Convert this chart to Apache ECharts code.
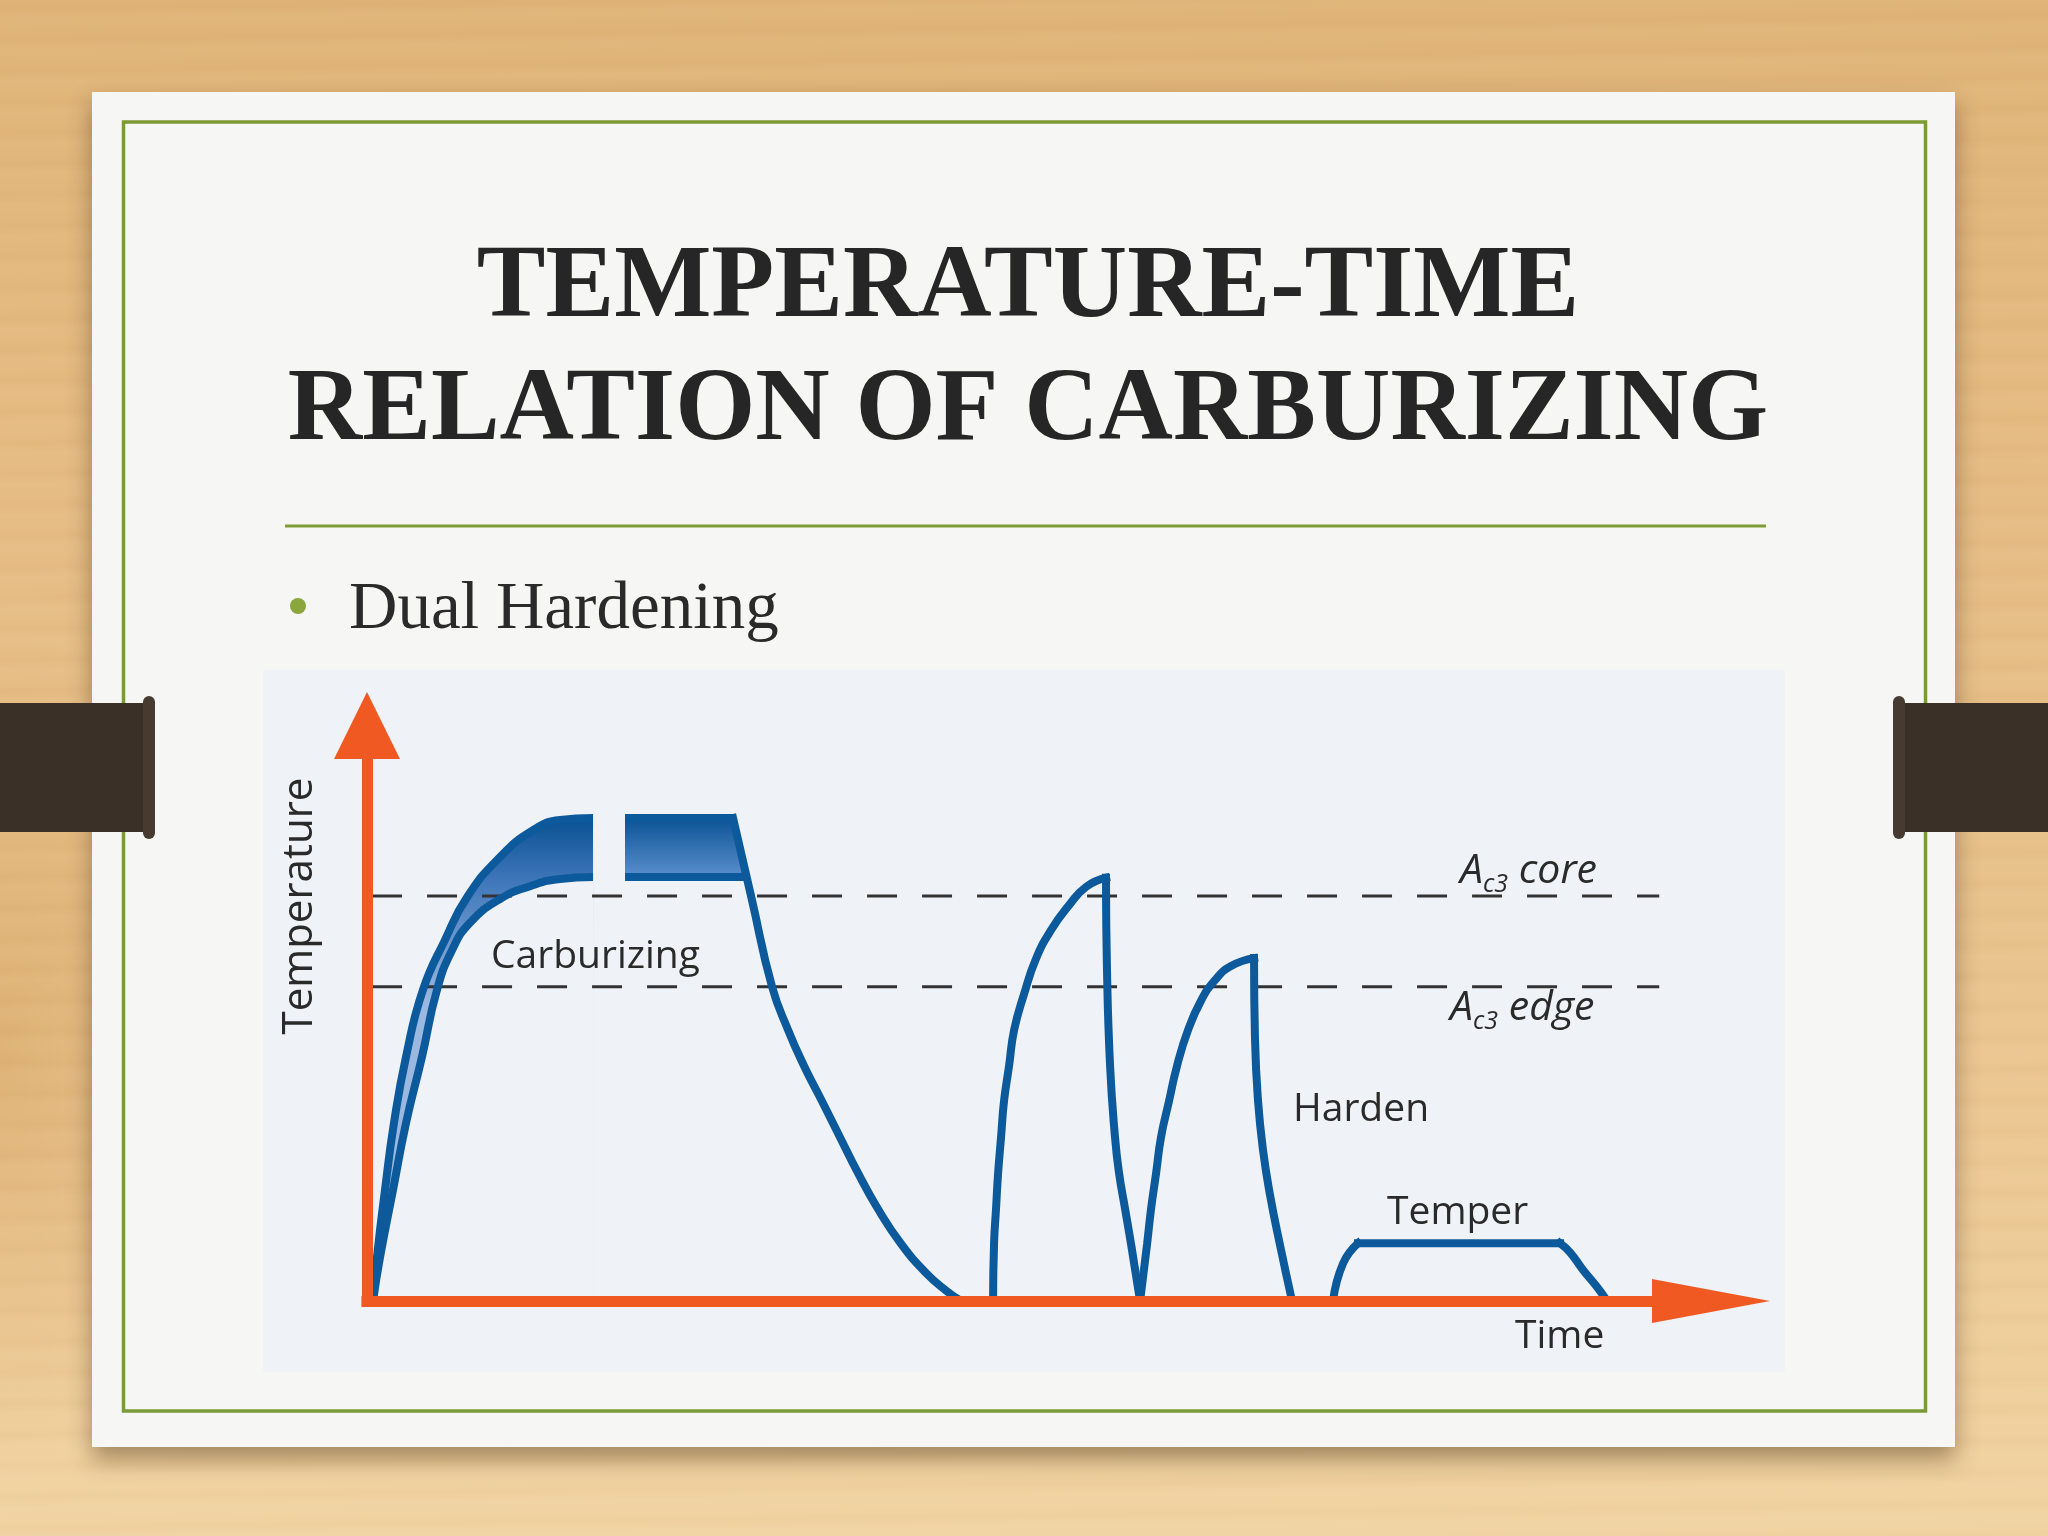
<!DOCTYPE html>
<html>
<head>
<meta charset="utf-8">
<title>Temperature-Time Relation of Carburizing</title>
<script src="https://cdn.jsdelivr.net/npm/echarts@6.0.0/dist/echarts.min.js"></script>
<style>
  html, body { margin: 0; padding: 0; }
  body {
    width: 2048px; height: 1536px; overflow: hidden;
    background-color: #e8c28a;
    background-image:
      repeating-linear-gradient(179.3deg, rgba(160, 100, 40, 0) 0px, rgba(160, 100, 40, 0.035) 9px, rgba(255, 236, 200, 0.03) 19px, rgba(160, 100, 40, 0) 31px),
      radial-gradient(ellipse 260px 420px at 0px 1050px, rgba(200, 140, 70, 0.35), rgba(200, 140, 70, 0)),
      linear-gradient(180deg, #e0b479 0%, #e5bc83 30%, #e8c18a 55%, #edcb97 80%, #f1d4a3 100%);
  }
  #chart { width: 2048px; height: 1536px; }
</style>
</head>
<body>
<div id="chart"></div>
<script>
// schematic units: time along x, temperature along y (no tick values on the original)
const carbOuter = [[0.43, 0], [0.71, 7.2], [1.28, 18.2], [1.92, 29.2], [2.78, 40.1], [3.99, 51.1],
  [5.56, 59.3], [7.13, 66.3], [9.48, 72.9], [11.83, 77.3], [13.76, 79.0], [16.11, 79.3]]
const carbInner = [[0.43, 0], [0.93, 7.2], [1.85, 18.2], [2.78, 29.2], [3.92, 40.1], [4.99, 51.1],
  [6.06, 57.6], [7.34, 62.1], [9.48, 66.0], [11.62, 68.1], [13.76, 69.3], [16.11, 69.6]]
const holdTop = [[18.39, 79.3], [26.09, 79.3]]
const holdBottom = [[18.39, 69.6], [27.0, 69.6]]
const cooling = [[26.09, 79.3], [27.44, 65.8], [28.87, 51.6], [30.01, 44.5], [31.15, 38.6],
  [32.43, 32.8], [33.71, 26.9], [35.0, 21.0], [36.42, 15.1], [38.06, 9.4], [39.84, 4.6],
  [41.34, 1.6], [42.34, 0]]
const harden1Up = [[44.62, 0], [44.69, 9.4], [44.83, 15.1], [44.98, 21.0], [45.19, 26.9],
  [45.4, 32.8], [45.76, 38.6], [46.12, 44.5], [46.83, 50.4], [47.68, 56.2], [48.75, 60.9],
  [50.04, 65.0], [51.25, 68.0], [52.67, 69.5]]
const harden1Down = [[52.67, 69.5], [52.74, 54.4], [52.96, 38.6], [53.31, 26.9], [53.6, 21.0],
  [54.03, 15.1], [54.45, 9.4], [55.1, 0]]
const harden2Up = [[55.1, 0], [55.6, 9.4], [55.88, 15.1], [56.24, 21.0], [56.59, 26.9],
  [57.16, 32.8], [57.73, 38.6], [58.52, 44.5], [59.44, 49.3], [60.44, 52.7], [61.58, 55.0], [63.22, 56.3]]
const harden2Down = [[63.22, 56.3], [63.29, 42.9], [63.5, 33.0], [63.86, 24.8], [64.36, 17.4],
  [65.07, 9.2], [65.93, 0]]
const temperUp = [[68.85, 0], [69.57, 6.2], [70.63, 9.5]]
const temperHold = [[70.63, 9.5], [85.03, 9.5]]
const temperDown = [[85.03, 9.5], [85.74, 8.0], [86.67, 5.1], [87.67, 2.3], [88.38, 0]]

const ac3Core = 66.5
const ac3Edge = 51.6
const dashSpan = [0.36, 92.1]

const PANEL = '#eff2f6'
const BLUE = '#0c5a9b'
const ORANGE = '#f05a22'
const INK = '#2a2a2a'

const chart = echarts.init(document.getElementById('chart'))

function curve(name, data, cap) {
  return {
    name, type: 'line', data, symbol: 'none', smooth: 0.5, silent: true, z: 5,
    lineStyle: { color: BLUE, width: 8, cap: cap || 'square', join: 'round' },
  }
}

function dashed(name, y) {
  return {
    name, type: 'line', symbol: 'none', silent: true, z: 4,
    data: [[dashSpan[0], y], [dashSpan[1], y]],
    lineStyle: { color: '#333333', width: 3, type: [30, 25] },
  }
}

function label(text, x, y, extra) {
  return {
    type: 'text', x, y, z: 30, silent: true,
    style: Object.assign({
      text, fill: INK, font: '38px "Open Sans"',
      align: 'left', verticalAlign: 'middle', textAlign: 'left', textVerticalAlign: 'middle',
    }, extra),
  }
}

function ac3(word, x, y) {
  return label('{a|A}{s|c3}{a| ' + word + '}', x, y, {
    rich: {
      a: { fontSize: 41, fontFamily: 'Open Sans', fontStyle: 'italic', fill: INK, lineHeight: 52 },
      s: { fontSize: 25, fontFamily: 'Open Sans', fontStyle: 'italic', fill: INK, lineHeight: 26, verticalAlign: 'bottom' },
    },
  })
}

// arrow heads sit past the end of the axis line so the thin tip is not covered by the line
function axis(size, endOffset) {
  return {
    type: 'value', z: 10,
    axisLine: {
      onZero: true, symbol: ['none', 'triangle'], symbolSize: size, symbolOffset: [0, endOffset],
      lineStyle: { color: ORANGE, width: 11, cap: 'butt' },
    },
    axisTick: { show: false },
    axisLabel: { show: false },
    splitLine: { show: false },
  }
}

const bandGrad = new echarts.graphic.LinearGradient(0, 0, 0, 1, [
  { offset: 0, color: '#0a5193' },
  { offset: 0.13, color: '#3f77ba' },
  { offset: 0.38, color: '#9ab8e0' },
  { offset: 1, color: '#9ab8e0' },
])
const blockGrad = new echarts.graphic.LinearGradient(0, 0, 0, 1, [
  { offset: 0, color: '#0b5395' },
  { offset: 1, color: '#5b8fcd' },
])

chart.setOption({
  animation: false,
  backgroundColor: 'transparent',
  grid: { left: 361.39, right: 328, top: 717, bottom: 229.52 },
  xAxis: Object.assign(axis([44, 118], -9), { min: -0.4, max: 96.43 }),
  yAxis: Object.assign(axis([66, 67], -8.5), { min: -0.9, max: 95.89 }),
  graphic: [
    // slide card
    { type: 'rect', z: 0, shape: { x: 92, y: 92, width: 1863, height: 1355 },
      style: { fill: '#f6f6f5', shadowBlur: 22, shadowOffsetY: 12, shadowColor: 'rgba(70,45,15,0.45)' } },
    { type: 'rect', z: 0, shape: { x: 123.5, y: 122, width: 1802, height: 1289 },
      style: { fill: 'none', stroke: '#7b9a35', lineWidth: 3.5 } },
    { type: 'text', z: 1, x: 1028, y: 289,
      style: { text: 'TEMPERATURE-TIME', font: 'bold 103px "Liberation Serif"', fill: '#262626',
        align: 'center', verticalAlign: 'middle', textAlign: 'center', textVerticalAlign: 'middle' } },
    { type: 'text', z: 1, x: 1028, y: 412,
      style: { text: 'RELATION OF CARBURIZING', font: 'bold 103px "Liberation Serif"', fill: '#262626',
        align: 'center', verticalAlign: 'middle', textAlign: 'center', textVerticalAlign: 'middle' } },
    { type: 'line', z: 1, shape: { x1: 285, y1: 526, x2: 1766, y2: 526 }, style: { stroke: '#7f9b36', lineWidth: 3 } },
    { type: 'circle', z: 1, shape: { cx: 298, cy: 606, r: 8 }, style: { fill: '#8aa63c' } },
    { type: 'text', z: 1, x: 349, y: 610,
      style: { text: 'Dual Hardening', font: '67px "Liberation Serif"', fill: INK,
        align: 'left', verticalAlign: 'middle', textAlign: 'left', textVerticalAlign: 'middle' } },
    // picture panel
    { type: 'rect', z: 1, shape: { x: 263, y: 670, width: 1522, height: 702 }, style: { fill: PANEL } },
    // binder clips
    { type: 'rect', z: 1, shape: { x: 0, y: 703, width: 152, height: 129 }, style: { fill: '#3b3028' } },
    { type: 'rect', z: 1, shape: { x: 143, y: 696, width: 12, height: 143, r: 6 }, style: { fill: '#463a31' } },
    { type: 'rect', z: 1, shape: { x: 1896, y: 703, width: 152, height: 129 }, style: { fill: '#3b3028' } },
    { type: 'rect', z: 1, shape: { x: 1893, y: 696, width: 12, height: 143, r: 6 }, style: { fill: '#463a31' } },
    // chart texts
    Object.assign(label('Temperature', 300, 906, { align: 'center', textAlign: 'center', font: '42px "Open Sans"' }),
      { rotation: Math.PI / 2 }),
    label('Carburizing', 491, 957, { font: '39px "Open Sans"' }),
    ac3('core', 1460, 871),
    ac3('edge', 1450, 1008),
    label('Harden', 1293, 1110, { font: '39px "Open Sans"' }),
    label('Temper', 1387, 1213, { font: '39px "Open Sans"' }),
    label('Time', 1515, 1337, { font: '39px "Open Sans"' }),
  ],
  series: [
    { name: 'carburizing band', type: 'line', data: carbOuter, smooth: 0.5, symbol: 'none', silent: true, z: 2,
      lineStyle: { width: 0, opacity: 0 }, areaStyle: { color: bandGrad, opacity: 1 } },
    { name: 'band mask', type: 'line', data: carbInner, smooth: 0.5, symbol: 'none', silent: true, z: 3,
      lineStyle: { width: 0, opacity: 0 }, areaStyle: { color: PANEL, opacity: 1 } },
    { name: 'hold block', type: 'line', data: holdTop.concat([holdBottom[holdBottom.length - 1]]),
      symbol: 'none', silent: true, z: 2, lineStyle: { width: 0, opacity: 0 },
      areaStyle: { color: blockGrad, opacity: 1, origin: holdBottom[0][1] } },
    dashed('Ac3 core', ac3Core),
    dashed('Ac3 edge', ac3Edge),
    curve('carb outer', carbOuter, 'butt'),
    curve('carb inner', carbInner, 'butt'),
    curve('hold top', holdTop, 'butt'),
    curve('hold bottom', holdBottom, 'butt'),
    curve('cooling', cooling),
    curve('harden 1 up', harden1Up),
    curve('harden 1 down', harden1Down),
    curve('harden 2 up', harden2Up),
    curve('harden 2 down', harden2Down),
    curve('temper up', temperUp),
    curve('temper hold', temperHold),
    curve('temper down', temperDown),
  ],
})
</script>
</body>
</html>
